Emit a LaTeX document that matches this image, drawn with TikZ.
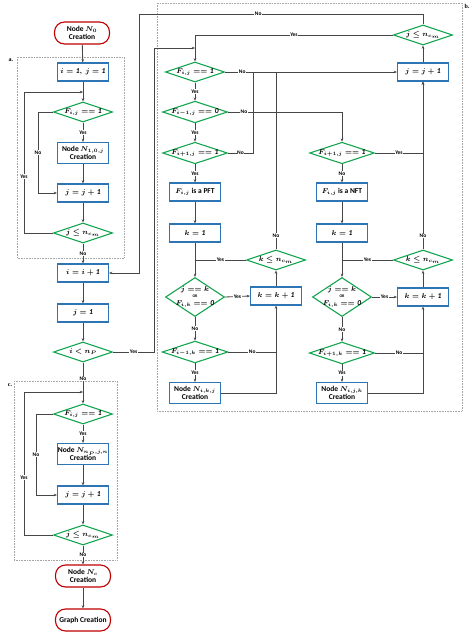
\documentclass[tikz,border=0pt]{standalone}
\usepackage{fontspec}
\setmainfont{Carlito}
\newfontfamily\partfont{Liberation Serif}
\usetikzlibrary{shapes.geometric,arrows.meta}

\definecolor{boxblue}{RGB}{46,117,182}
\definecolor{decgreen}{RGB}{20,165,80}
\definecolor{termred}{RGB}{192,0,0}
\definecolor{flowgray}{RGB}{70,70,70}

\newcommand{\one}{\mathit{1}}
\newcommand{\zero}{\mathit{0}}

\tikzset{
  term/.style={draw=termred,line width=1.1pt,rounded corners=10pt,minimum width=55pt,
    minimum height=22pt,inner sep=0pt,align=center,fill=white,
    font=\bfseries\fontsize{7.5}{8.5}\selectfont\boldmath},
  proc/.style={draw=boxblue,line width=1.1pt,minimum width=51pt,minimum height=18pt,
    inner sep=0pt,align=center,fill=white,font=\bfseries\fontsize{7.5}{8.5}\selectfont\boldmath},
  proctwo/.style={proc,minimum height=21pt},
  dec/.style={diamond,draw=decgreen,line width=1.1pt,aspect=3,inner sep=-0.5pt,
    minimum width=59pt,minimum height=20pt,fill=white,font=\fontsize{7.5}{8.5}\selectfont\boldmath},
  bigdec/.style={dec,aspect=1.5,inner sep=-3pt,minimum width=59pt,minimum height=39pt,
    align=center,font=\fontsize{7.5}{7.5}\selectfont\boldmath},
  lbl/.style={fill=white,inner sep=0.6pt,font=\bfseries\fontsize{5.5}{6}\selectfont},
  flow/.style={draw=flowgray,line width=0.85pt},
  arr/.style={flow,-{Stealth[length=3.2pt,width=2.6pt]}},
  frame/.style={draw=gray!70,densely dotted,line width=0.6pt},
  part/.style={font=\partfont\bfseries\fontsize{6}{6}\selectfont}
}

\begin{document}
\begin{tikzpicture}[x=1pt,y=-1pt]
    \useasboundingbox (0,0) rectangle (474,632);

    % Frames
    \draw[frame] (17,57) rectangle (124,258);
    \draw[frame] (157,3) rectangle (462,411);
    \draw[frame] (14,381) rectangle (117,560);
    \node[part] (part-a) at (11,60) {a.};
    \node[part] (part-b) at (467,6) {b.};
    \node[part] (part-c) at (10,385) {c.};

    % Nodes, left column
    \node[term] (n0) at (82,33) {Node $N_0$\\Creation};
    \node[proc] (a-init) at (83,72) {$i=\one,\ j=\one$};
    \node[dec] (a-dec) at (83,112) {$F_{i,j}==\one$};
    \node[proctwo] (a-node) at (83,153) {Node $N_{1,0,j}$\\Creation};
    \node[proc] (a-inc) at (83,193) {$j=j+\one$};
    \node[dec] (a-loop) at (83,233) {$j\leq n_{c_m}$};
    \node[proc] (i-inc) at (83,273) {$i=i+\one$};
    \node[proc] (j-reset) at (83,313) {$j=\one$};
    \node[dec] (i-dec) at (83,352) {$i<n_P$};
    \node[dec] (c-dec) at (83,414) {$F_{i,j}==\one$};
    \node[proctwo] (c-node) at (83,454) {Node $N_{n_P,j,n}$\\Creation};
    \node[proc] (c-inc) at (83,495) {$j=j+\one$};
    \node[dec] (c-loop) at (83,535) {$j\leq n_{c_m}$};
    \node[term] (nc) at (83,576) {Node $N_c$\\Creation};
    \node[term] (graph) at (83,620) {Graph Creation};

    % Nodes, part b
    \node[dec] (b-fij) at (195,72) {$F_{i,j}==\one$};
    \node[dec] (b-fprev) at (195,112) {$F_{i-1,j}==\zero$};
    \node[dec] (b-fnext) at (195,153) {$F_{i+1,j}==\one$};
    \node[proc] (b-pft) at (195,192) {$F_{i,j}$ is a PFT};
    \node[proc] (b-k) at (195,233) {$k=\one$};
    \node[bigdec] (b-jk) at (195,297) {$j==k$\\[-1pt]{\bfseries\fontsize{4}{4}\selectfont OR}\\$F_{i,k}==\zero$};
    \node[proc] (b-kinc) at (276,296) {$k=k+\one$};
    \node[dec] (b-kdec) at (276,260) {$k\leq n_{c_m}$};
    \node[dec] (b-fk) at (195,352) {$F_{i-1,k}==\one$};
    \node[proctwo] (b-node) at (195,393) {Node $N_{i,k,j}$\\Creation};

    \node[dec] (r-fnext) at (342,153) {$F_{i+1,j}==\one$};
    \node[proc] (r-nft) at (342,192) {$F_{i,j}$ is a NFT};
    \node[proc] (r-k) at (342,233) {$k=\one$};
    \node[bigdec] (r-jk) at (342,297) {$j==k$\\[-1pt]{\bfseries\fontsize{4}{4}\selectfont OR}\\$F_{i,k}==\zero$};
    \node[proc] (r-kinc) at (423,297) {$k=k+\one$};
    \node[dec] (r-kdec) at (423,260) {$k\leq n_{c_m}$};
    \node[dec] (r-fk) at (342,353) {$F_{i+1,k}==\one$};
    \node[proctwo] (r-node) at (342,393) {Node $N_{i,j,k}$\\Creation};
    \node[proc] (j-inc) at (423,72) {$j=j+\one$};
    \node[dec] (j-dec) at (423,35) {$j\leq n_{c_m}$};

    % Junctions
    \coordinate (a-join) at (83,92);
    \coordinate (c-join) at (83,392);
    \coordinate (b-join) at (195,48);
    \coordinate (top-left) at (139,14);
    \coordinate (b-meet) at (253,72);
    \coordinate (b-meet2) at (276,72);

    % Lines, part a
    \draw[arr] (n0) -- (a-init);
    \draw[arr] (a-init) -- (a-dec);
    \draw[arr] (a-dec) -- node[lbl]{Yes} (a-node);
    \draw[arr] (a-node) -- (a-inc);
    \draw[arr] (a-inc) -- (a-loop);
    \draw[arr] (a-dec.west) -- ++(-15,0) |- node[lbl,pos=0.25]{No} (a-inc.west);
    \draw[arr] (a-loop.west) -- ++(-29,0) |- node[lbl,pos=0.2]{Yes} (a-join);
    \draw[arr] (a-loop) -- node[lbl]{No} (i-inc);
    \draw[arr] (i-inc) -- (j-reset);
    \draw[arr] (j-reset) -- (i-dec);
    \draw[arr] (i-dec.east) -- node[lbl]{Yes} ++(41,0) |- (b-join);
    \draw[arr] (j-dec.north) |- node[lbl,pos=0.79]{No} (top-left) |- (i-inc.east);
    \draw[arr] (i-dec) -- node[lbl,pos=0.4]{No} (c-dec);

    % Lines, part b
    \draw[arr] (j-dec.west) -| node[lbl,pos=0.25]{Yes} (b-fij.north);
    \draw[arr] (b-fij) -- node[lbl]{Yes} (b-fprev);
    \draw[arr] (b-fprev) -- node[lbl]{Yes} (b-fnext);
    \draw[arr] (b-fnext) -- node[lbl]{Yes} (b-pft);
    \draw[arr] (b-fij.east) -- node[lbl,pos=0.1]{No} (j-inc.west);
    \draw[arr] (b-fprev.east) -| node[lbl,pos=0.07]{No} (r-fnext.north);
    \draw[flow] (b-fnext.east) -| node[lbl,pos=0.25]{No} (b-meet);
    \draw[arr] (b-pft) -- (b-k);
    \draw[arr] (b-k) -- (b-jk);
    \draw[flow] (b-kdec.west) -- node[lbl]{Yes} (b-kdec.west -| b-k.south);
    \draw[arr] (b-jk.east) -- node[lbl]{Yes} (b-kinc.west);
    \draw[arr] (b-kinc) -- (b-kdec);
    \draw[flow] (b-kdec.north) -- node[lbl,pos=0.08]{No} (b-meet2);
    \draw[arr] (b-jk) -- node[lbl]{No} (b-fk);
    \draw[flow] (b-fk.east) -- node[lbl]{No} (b-fk.east -| b-kinc.south);
    \draw[arr] (b-fk) -- node[lbl]{Yes} (b-node);
    \draw[arr] (b-node.east) -| (b-kinc.south);

    \draw[arr] (r-fnext.east) -| node[lbl,pos=0.25]{Yes} (j-inc.south);
    \draw[arr] (r-fnext) -- node[lbl]{No} (r-nft);
    \draw[arr] (r-nft) -- (r-k);
    \draw[arr] (r-k) -- (r-jk);
    \draw[flow] (r-kdec.west) -- node[lbl]{Yes} (r-kdec.west -| r-k.south);
    \draw[arr] (r-jk.east) -- node[lbl]{Yes} (r-kinc.west);
    \draw[arr] (r-kinc) -- (r-kdec);
    \draw[arr] (r-kdec.north) -- node[lbl,pos=0.08]{No} (j-inc.south);
    \draw[arr] (r-jk) -- node[lbl]{No} (r-fk);
    \draw[flow] (r-fk.east) -- node[lbl]{No} (r-fk.east -| r-kinc.south);
    \draw[arr] (r-fk) -- node[lbl]{Yes} (r-node);
    \draw[arr] (r-node.east) -| (r-kinc.south);
    \draw[arr] (j-inc) -- (j-dec);

    % Lines, part c
    \draw[arr] (c-dec) -- node[lbl]{Yes} (c-node);
    \draw[arr] (c-node) -- (c-inc);
    \draw[arr] (c-inc) -- (c-loop);
    \draw[arr] (c-dec.west) -- ++(-17,0) |- node[lbl,pos=0.25]{No} (c-inc.west);
    \draw[arr] (c-loop.west) -- ++(-29,0) |- node[lbl,pos=0.2]{Yes} (c-join);
    \draw[arr] (c-loop) -- node[lbl]{No} (nc);
    \draw[arr] (nc) -- (graph);

\end{tikzpicture}
\end{document}
